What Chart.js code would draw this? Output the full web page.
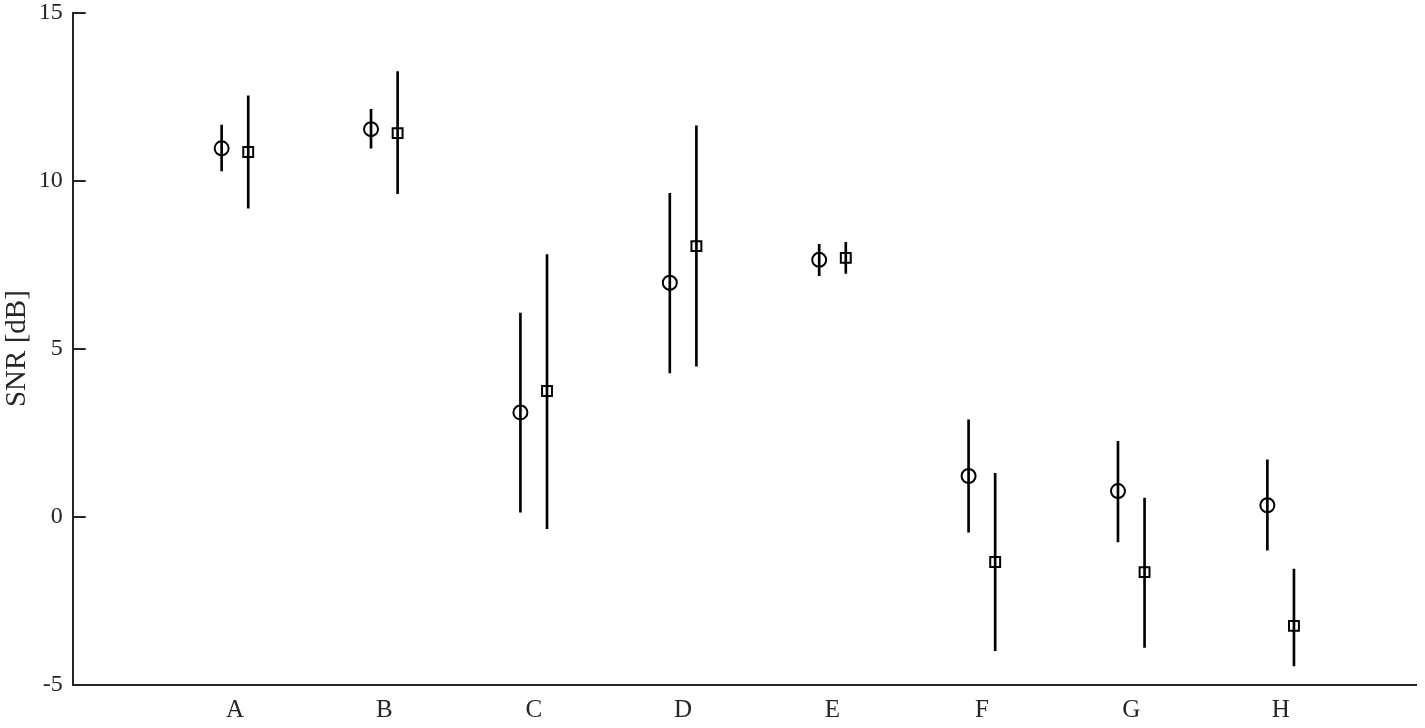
<!DOCTYPE html>
<html>
<head>
<meta charset="utf-8">
<script src="https://cdn.jsdelivr.net/npm/chart.js@4.4.1/dist/chart.umd.min.js"></script>
<style>
  html, body { margin: 0; padding: 0; background: #ffffff; overflow: hidden; }
  #wrap { width: 1425px; height: 728px; position: relative; }
</style>
</head>
<body>
<div id="wrap"><canvas id="c"></canvas></div>
<script>
// ---- data ----
const categories = ['A', 'B', 'C', 'D', 'E', 'F', 'G', 'H'];
const circleMean = [10.96, 11.53, 3.10, 6.96, 7.64, 1.21, 0.76, 0.34];
const circleLow  = [10.29, 10.96, 0.13, 4.28, 7.17, -0.46, -0.75, -1.00];
const circleHigh = [11.65, 12.12, 6.06, 9.62, 8.10, 2.88, 2.24, 1.69];
const squareMean = [10.85, 11.41, 3.74, 8.05, 7.70, -1.35, -1.65, -3.25];
const squareLow  = [9.18, 9.61, -0.36, 4.48, 7.24, -3.99, -3.89, -4.44];
const squareHigh = [12.52, 13.24, 7.80, 11.63, 8.16, 1.29, 0.55, -1.56];
const yTicks = [-5, 0, 5, 10, 15];

// ---- layout helpers ----
const OFFSET = 0.089;
const AXIS = '#262626';
const INK = '#000000';
const SERIF = "'Liberation Serif', 'Times New Roman', serif";

const pos = (i, side) => i + 1 + side * OFFSET;

const circlePts = categories.map((c, i) => ({ x: pos(i, -1), y: circleMean[i] }));
const squarePts = categories.map((c, i) => ({ x: pos(i, 1), y: squareMean[i] }));
const circleErr = categories.map((c, i) => ({ x: pos(i, -1), y: [circleLow[i], circleHigh[i]] }));
const squareErr = categories.map((c, i) => ({ x: pos(i, 1), y: [squareLow[i], squareHigh[i]] }));

new Chart(document.getElementById('c'), {
  type: 'scatter',
  data: {
    datasets: [
      { type: 'scatter', data: circlePts, pointStyle: 'circle', pointRadius: 7,
        borderColor: INK, backgroundColor: 'rgba(0,0,0,0)', borderWidth: 2, order: 1 },
      { type: 'scatter', data: squarePts, pointStyle: 'rect', pointRadius: 7,
        borderColor: INK, backgroundColor: 'rgba(0,0,0,0)', borderWidth: 2, order: 1 },
      { type: 'bar', data: circleErr, backgroundColor: INK, borderWidth: 0,
        barThickness: 2, grouped: false, order: 2 },
      { type: 'bar', data: squareErr, backgroundColor: INK, borderWidth: 0,
        barThickness: 2, grouped: false, order: 2 }
    ]
  },
  options: {
    responsive: true,
    maintainAspectRatio: false,
    animation: false,
    devicePixelRatio: 1,
    layout: { padding: { top: 12.5, right: 6, bottom: 0, left: 0 } },
    plugins: { legend: { display: false }, tooltip: { enabled: false } },
    scales: {
      x: {
        type: 'linear',
        min: -0.086,
        max: 8.906,
        offset: false,
        afterBuildTicks: (s) => { s.ticks = categories.map((c, i) => ({ value: i + 1 })); },
        afterFit: (s) => { s.height = 43.3; s.paddingLeft = 0; s.paddingRight = 0; },
        grid: { display: false, drawTicks: false, offset: false },
        border: { display: true, color: AXIS, width: 2 },
        ticks: {
          autoSkip: false,
          maxRotation: 0,
          padding: 11,
          color: AXIS,
          font: { family: SERIF, size: 25, lineHeight: 1.2 },
          callback: (v) => categories[Math.round(v) - 1] ?? ''
        }
      },
      y: {
        type: 'linear',
        min: -5,
        max: 15,
        afterBuildTicks: (s) => { s.ticks = yTicks.map(v => ({ value: v })); },
        afterFit: (s) => { s.width = 72.7; s.paddingTop = 0; s.paddingBottom = 0; },
        grid: { drawOnChartArea: false, drawTicks: true, tickLength: -13, color: AXIS, lineWidth: 2 },
        border: { display: true, color: AXIS, width: 2 },
        ticks: {
          padding: 23,
          color: AXIS,
          font: { family: SERIF, size: 24, lineHeight: 1 },
          callback: (v) => String(v)
        },
        title: {
          display: true,
          text: 'SNR [dB]',
          color: AXIS,
          padding: { top: 0, bottom: 0 },
          font: { family: SERIF, size: 29, lineHeight: 1.2 }
        }
      }
    }
  }
});
</script>
</body>
</html>
